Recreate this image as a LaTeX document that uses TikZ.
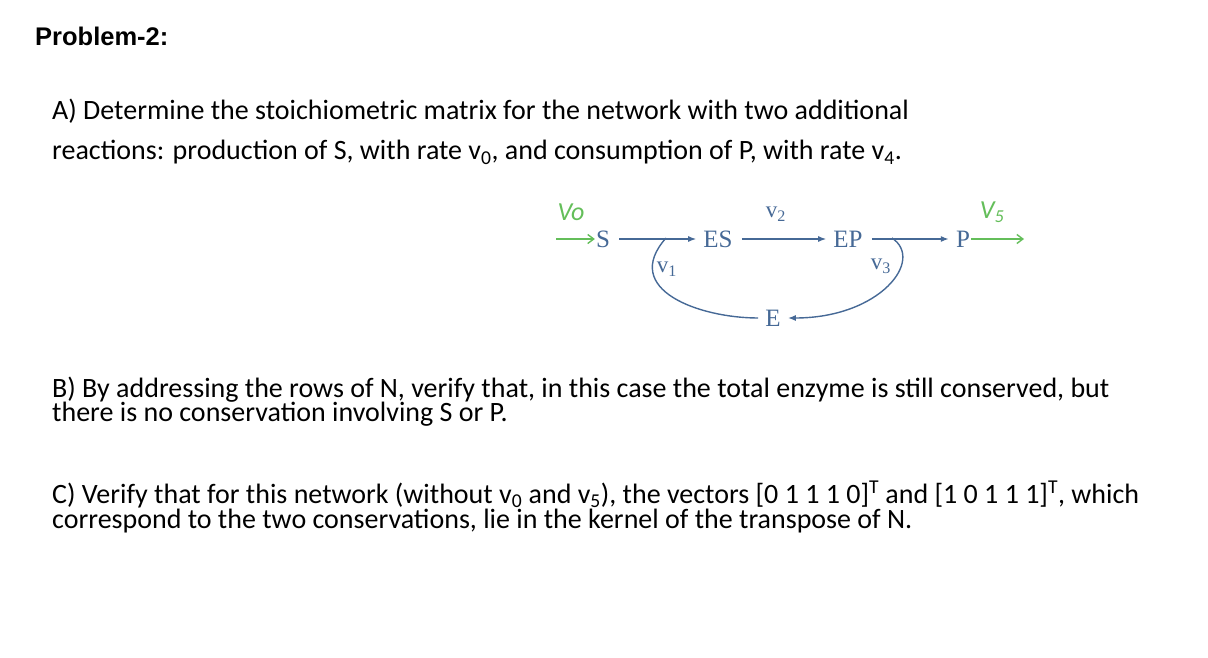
\documentclass[tikz,border=0pt]{standalone}
\usepackage{fontspec}
\setmainfont{Carlito}
\newfontfamily\titlefont{Liberation Sans}
\newfontfamily\serf{Liberation Serif}
\usetikzlibrary{arrows.meta}
\definecolor{blu}{RGB}{70,105,150}
\definecolor{grn}{RGB}{100,190,90}
\tikzset{txt/.style={anchor=base west,inner sep=0pt,font=\fontsize{28}{32}\selectfont},
 sp/.style={font=\serf\fontsize{25}{28}\selectfont,inner sep=1pt,text=blu},
 lab/.style={font=\serf\fontsize{23}{26}\selectfont,inner sep=0pt,text=blu},
 arr/.style={draw=blu,line width=1.4pt,-{Latex[length=8pt,width=6pt]}},
 garr/.style={draw=grn,line width=1.4pt,-{Straight Barb[length=6pt,width=9pt]}},
 glab/.style={text=grn,font=\itshape\fontsize{26}{28}\selectfont,inner sep=0pt}}
\begin{document}
\begin{tikzpicture}[x=1pt,y=-1pt]
\useasboundingbox (0,0) rectangle (1208,658);
\node[txt,font=\titlefont\bfseries\fontsize{25.5}{28}\selectfont] (t) at (35,46) {Problem-2:};
\node[txt] (a1) at (52,120) {A) Determine the stoichiometric matrix for the network with two additional};
\node[txt] (a2) at (52,160) {reactions: production of S, with rate v\textsubscript{0}, and consumption of P, with rate v\textsubscript{4}.};
\node[txt] (b1) at (52,397) {B) By addressing the rows of N, verify that, in this case the total enzyme is still conserved, but};
\node[txt] (b2) at (52,421) {there is no conservation involving S or P.};
\node[txt] (c1) at (52,503) {C) Verify that for this network (without v\textsubscript{0} and v\textsubscript{5}), the vectors [0 1 1 1 0]\textsuperscript{T} and [1 0 1 1 1]\textsuperscript{T}, which};
\node[txt] (c2) at (52,528) {correspond to the two conservations, lie in the kernel of the transpose of N.};
% diagram
\node[sp] (S) at (603,239) {S};
\node[sp] (ES) at (718,239) {ES};
\node[sp] (EP) at (848,239) {EP};
\node[sp] (P) at (963,239) {P};
\node[sp] (E) at (773,318) {E};
\node[lab] (v1) at (667,269) {v\textsubscript{1}};
\node[lab] (v2) at (776,214) {v\textsubscript{2}};
\node[lab] (v3) at (881,266) {v\textsubscript{3}};
\coordinate (g0) at (556,239);
\coordinate (g5) at (1024,239);
\coordinate (j1) at (666,238);
\coordinate (j3) at (892,238);
\draw[arr] ([xshift=8pt]S.east) -- ([xshift=-6pt]ES.west);
\draw[arr] ([xshift=8pt]ES.east) -- ([xshift=-6pt]EP.west);
\draw[arr] ([xshift=8pt]EP.east) -- ([xshift=-6pt]P.west);
\draw[draw=blu,line width=1.4pt] ([xshift=-6pt]E.west) .. controls (700,318) and (620,290) .. (j1);
\draw[arr] (j3) .. controls (925,260) and (880,318) .. ([xshift=6pt]E.east);
\node[glab] (v0) at (571,212) {Vo};
\node[glab] (v5) at (992,212) {V\textsubscript{5}};
\draw[garr] (g0) -- (S.west);
\draw[garr] (P.east) -- (g5);
\end{tikzpicture}
\end{document}
